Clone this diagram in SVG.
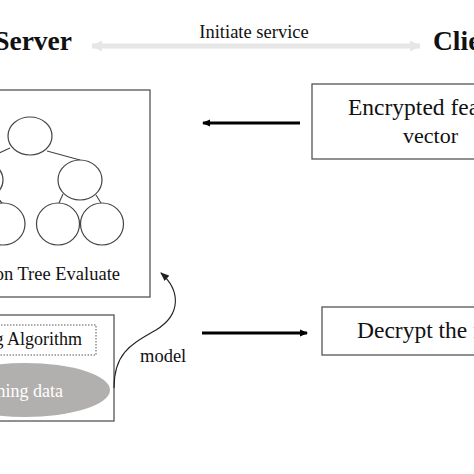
<svg xmlns="http://www.w3.org/2000/svg" width="474" height="474" viewBox="0 0 474 474">
<style>
  text { font-family: "Liberation Serif", "Times New Roman", serif; fill: #111; }
  .title { font-size: 27.5px; font-weight: bold; }
  .box { fill: #fff; stroke: #555; stroke-width: 1.3; }
  .node { fill: #fff; stroke: #444; stroke-width: 1.2; }
  .edge { stroke: #444; stroke-width: 1.1; fill: none; }
  .arrow { stroke: #000; stroke-width: 3; fill: none; }
</style>
<defs>
  <marker id="ah" markerWidth="8" markerHeight="8" refX="7" refY="4" orient="auto" markerUnits="userSpaceOnUse">
    <path d="M0,0.5 L8,4 L0,7.5 Z" fill="#000"/>
  </marker>
  <marker id="ahg" markerWidth="12" markerHeight="12" refX="10" refY="6" orient="auto-start-reverse" markerUnits="userSpaceOnUse">
    <path d="M0,0.5 L11,6 L0,11.5 Z" fill="#e6e6e6"/>
  </marker>
  <marker id="ahs" markerWidth="9" markerHeight="9" refX="8" refY="4.5" orient="auto" markerUnits="userSpaceOnUse">
    <path d="M0,1 L9,4.5 L0,8 Z" fill="#222"/>
  </marker>
</defs>
<rect width="474" height="474" fill="#fff"/>

<g id="server-label">
  <text class="title" x="72" y="50" text-anchor="end">Server</text>
</g>
<g id="client-label">
  <text class="title" x="433" y="50">Client</text>
</g>

<g id="tree-box">
  <rect class="box" x="-20" y="90" width="170" height="207"/>
  <line class="edge" x1="47" y1="151" x2="80" y2="160"/>
  <line class="edge" x1="10" y1="148" x2="-5" y2="155"/>
  <line class="edge" x1="63" y1="194" x2="59" y2="203"/>
  <line class="edge" x1="96" y1="195" x2="101" y2="203"/>
  <line class="edge" x1="-2" y1="198" x2="2" y2="203"/>
  <ellipse class="node" cx="30" cy="136" rx="22" ry="19"/>
  <ellipse class="node" cx="-19" cy="180" rx="22" ry="19"/>
  <ellipse class="node" cx="80" cy="180" rx="22" ry="20"/>
  <ellipse class="node" cx="3" cy="224" rx="22" ry="21"/>
  <ellipse class="node" cx="58" cy="224" rx="21.5" ry="21"/>
  <ellipse class="node" cx="102" cy="224" rx="21.5" ry="21"/>
  <text x="120" y="280" font-size="18.5" text-anchor="end">Decision Tree Evaluate</text>
</g>

<g id="training-box">
  <rect class="box" x="-20" y="315" width="134" height="106"/>
  <rect x="-20" y="325" width="116" height="30" fill="#fff" stroke="#555" stroke-width="1" stroke-dasharray="1.5,1.5"/>
  <text x="82" y="345" font-size="18" text-anchor="end">Learning Algorithm</text>
  <ellipse cx="25" cy="390" rx="85" ry="27" fill="#b2b0af"/>
  <text x="63" y="397" font-size="18" text-anchor="end" style="fill:#fff">Training data</text>
</g>

<g id="encrypted-box">
  <rect class="box" x="312" y="84" width="200" height="75"/>
  <text x="348" y="115" font-size="23.5">Encrypted feature</text>
  <text x="403" y="143" font-size="22">vector</text>
</g>

<g id="decrypt-box">
  <rect class="box" x="322" y="307" width="200" height="48"/>
  <text x="357" y="338" font-size="23.5">Decrypt the result</text>
</g>

<g id="connectors">
  <line x1="92" y1="46" x2="420" y2="46" stroke="#e6e6e6" stroke-width="5" marker-start="url(#ahg)" marker-end="url(#ahg)"/>
  <text x="254" y="38" font-size="18.5" text-anchor="middle">Initiate service</text>
  <line class="arrow" x1="300" y1="123" x2="203" y2="123" marker-end="url(#ah)"/>
  <line class="arrow" x1="202" y1="333" x2="307" y2="333" marker-end="url(#ah)"/>
  <path d="M114,388 C114,352 132,344 156,330 C182,314 180,290 161,273" stroke="#222" stroke-width="1.1" fill="none" marker-end="url(#ahs)"/>
  <text x="140" y="362" font-size="18.5">model</text>
</g>
</svg>
